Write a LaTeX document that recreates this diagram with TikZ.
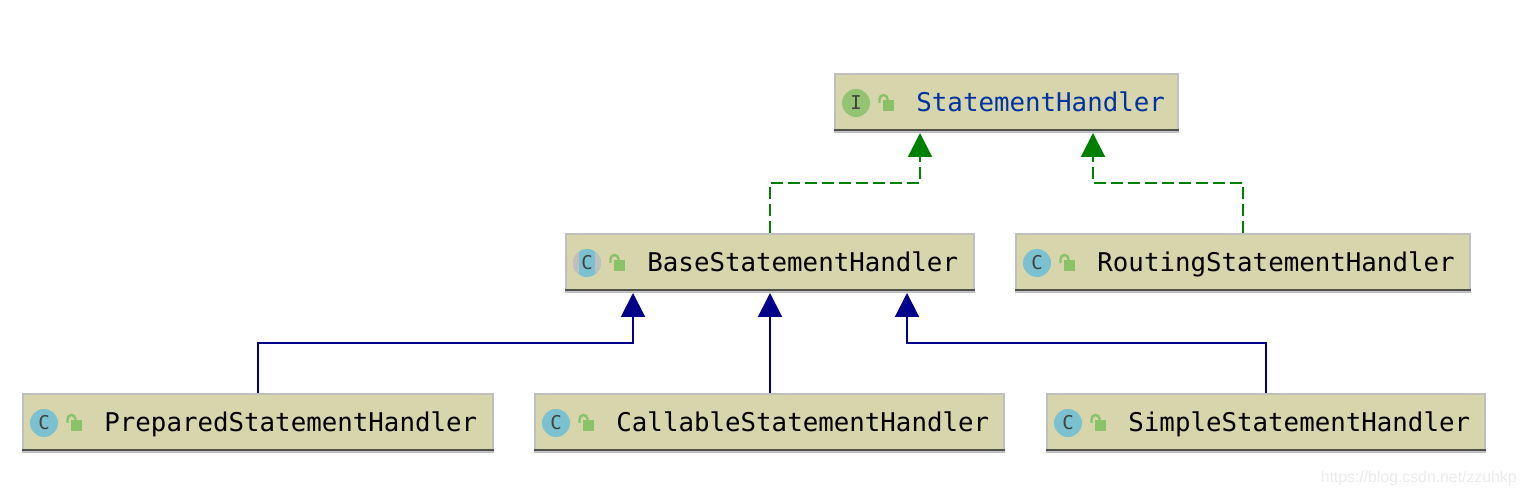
\documentclass[tikz,border=0pt]{standalone}
\usepackage{fontspec}
\setmainfont{Liberation Sans}
\setmonofont{DejaVu Sans Mono}
\usetikzlibrary{arrows.meta}
\definecolor{boxfill}{HTML}{D7D5AB}
\definecolor{boxedge}{HTML}{BFBFBF}
\definecolor{boxbot}{HTML}{50504C}
\definecolor{ifacecol}{HTML}{95C374}
\definecolor{classcol}{HTML}{7BC1CF}
\definecolor{lockcol}{HTML}{8BC168}
\definecolor{ifacetxt}{HTML}{0033A0}
\definecolor{implcol}{HTML}{008000}
\definecolor{extcol}{HTML}{00008B}
\tikzset{
  cls/.style={draw=boxedge,line width=1pt,fill=boxfill,inner sep=0pt,minimum height=29pt},
  lbl/.style={anchor=base west,inner sep=0pt,font=\ttfamily\fontsize{12.9}{15}\selectfont},
  iconc/.style={circle,inner sep=0pt,minimum size=14pt,text=black!75,font=\ttfamily\fontsize{9.5}{10}\selectfont},
  implarrow/.style={draw=implcol,line width=1pt,dash pattern=on 6pt off 2.5pt,-{Triangle[length=12pt,width=12pt]}},
  extarrow/.style={draw=extcol,line width=1pt,-{Triangle[length=12pt,width=12pt]}}
}
\begin{document}
\begin{tikzpicture}[x=.5pt,y=.5pt,line join=miter]
  \useasboundingbox (0,0) rectangle (1526,496);
  \foreach \nm/\lft/\rgt/\yc/\ltr/\icol/\tcol/\txt in {
      handler/834/1179/393/I/ifacecol/ifacetxt/StatementHandler,
      base/565/975/233/C/classcol/black/BaseStatementHandler,
      routing/1015/1471/233/C/classcol/black/RoutingStatementHandler,
      prepared/22/494/73/C/classcol/black/PreparedStatementHandler,
      callable/534/1005/73/C/classcol/black/CallableStatementHandler,
      simple/1046/1486/73/C/classcol/black/SimpleStatementHandler}{
    \node[cls,minimum width={(\rgt-\lft-2)*.5pt}] (\nm) at ({(\lft+\rgt)/2},\yc) {};
    \draw[boxbot,line width=1.1pt] ([yshift=1.3pt]\nm.south west) -- ([yshift=1.3pt]\nm.south east);
    \node[iconc,fill=\icol] (\nm ic) at ({\lft+22},\yc) {\ltr};
    % lock
    \fill[lockcol] ({\lft+49},{\yc+3}) rectangle ({\lft+60},{\yc-8});
    \draw[lockcol,line width=1.2pt] ({\lft+45.5},{\yc}) -- ({\lft+45.5},{\yc+4}) arc (180:0:4) -- ({\lft+53.5},{\yc+2});
    \node[lbl,text=\tcol] (\nm lbl) at ({\lft+82},{\yc-9}) {\txt};
  }
  % half grey icon of the base class
  \begin{scope}
    \clip (565,200) rectangle (579,266) (595,200) rectangle (610,266);
    \fill[boxedge] (baseic.center) circle (14);
  \end{scope}
  \draw[implarrow] (base.north) -- ++(0,50) -| ([xshift=-43.25pt]handler.south);
  \draw[implarrow] (routing.north) -- ++(0,50) -| ([xshift=43.25pt]handler.south);
  \draw[extarrow] (prepared.north) -- ++(0,50) -| ([xshift=-68.5pt]base.south);
  \draw[extarrow] ([xshift=.25pt]callable.north) -- (base.south);
  \draw[extarrow] (simple.north) -- ++(0,50) -| ([xshift=68.5pt]base.south);
  \node[anchor=base east,inner sep=0pt,text=black!8,font=\fontsize{7.9}{10}\selectfont] (mark) at (1517,13) {https://blog.csdn.net/zzuhkp};
\end{tikzpicture}
\end{document}
